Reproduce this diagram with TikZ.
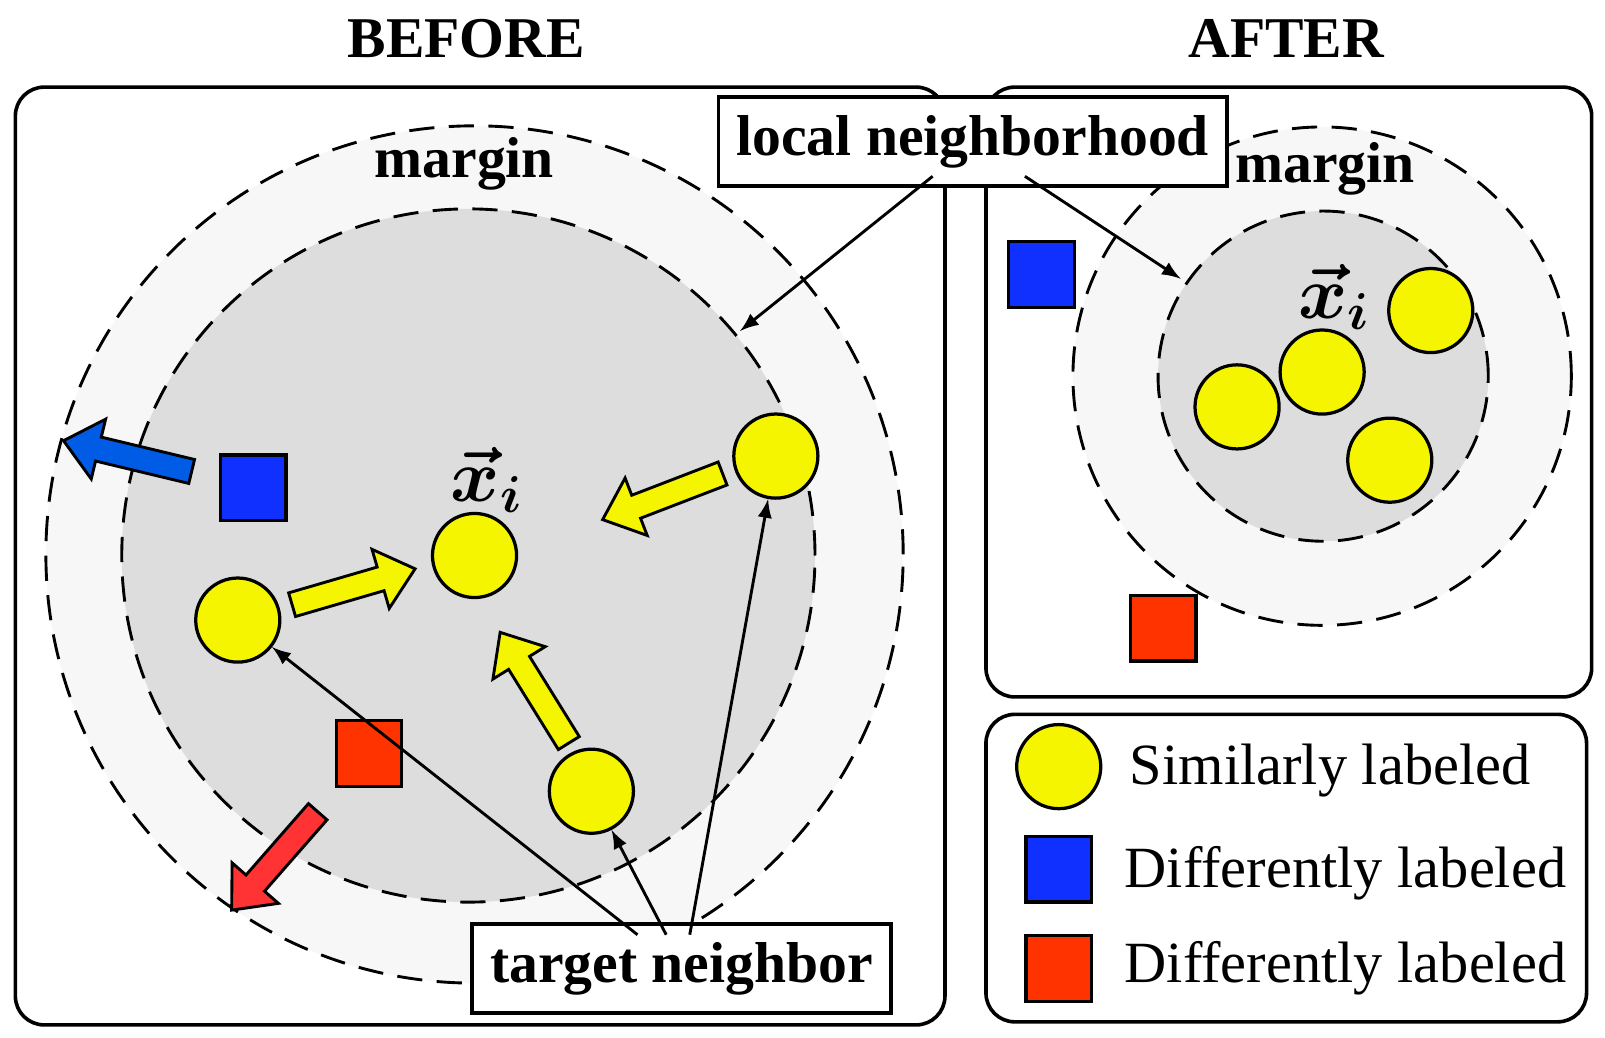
\documentclass[tikz,border=0pt]{standalone}
\usepackage{fontspec}
\setmainfont{Liberation Serif}
\usepackage{amsmath,bm}
\usetikzlibrary{calc}

\definecolor{simyellow}{HTML}{F5F500}
\definecolor{diffblue}{HTML}{1030FF}
\definecolor{diffred}{HTML}{FF3300}
\definecolor{outergray}{HTML}{F7F7F7}
\definecolor{innergray}{HTML}{DDDDDD}

% fat push/pull arrow from #2 to #3
\newcommand{\pusharrow}[3]{%
  \coordinate (h) at ($(#3)!0.35cm!(#2)$);
  \draw[fill=#1, line width=0.8pt, line join=miter]
    ($(#2)!0.12cm!90:(#3)$) -- ($(h)!0.12cm!-90:(#2)$) -- ($(h)!0.3cm!-90:(#2)$)
    -- (#3) -- ($(h)!0.3cm!90:(#2)$) -- ($(h)!0.12cm!90:(#2)$)
    -- ($(#2)!0.12cm!-90:(#3)$) -- cycle;}

\tikzset{
  panel/.style={draw, line width=1pt, rounded corners=8pt},
  zone/.style={draw, dashed, dash pattern=on 7pt off 4pt, line width=0.8pt},
  sim/.style={circle, draw, line width=0.9pt, fill=simyellow, minimum size=0.82cm, inner sep=0pt},
  diff/.style={rectangle, draw, line width=0.9pt, fill=#1, minimum size=0.64cm, inner sep=0pt},
  title/.style={font=\fontsize{16}{19}\selectfont\bfseries},
  tag/.style={draw, line width=1pt, fill=white, font=\fontsize{16}{19}\selectfont\bfseries, inner sep=5pt},
  note/.style={font=\fontsize{16}{19}\selectfont\bfseries},
  legend/.style={font=\fontsize{16.2}{19}\selectfont, anchor=west},
  pointer/.style={-latex, line width=0.8pt},
}

\begin{document}
\begin{tikzpicture}[x=0.01cm, y=-0.01cm]
\useasboundingbox (0,0) rectangle (1566,1012);

\node[title] (tbefore) at (455,38) {BEFORE};
\node[title] (tafter) at (1255,38) {AFTER};

\draw[panel] (15,85) rectangle (922,1000);
\draw[panel] (962,85) rectangle (1553,680);
\draw[panel] (962,697) rectangle (1548,997);

% before
\fill[outergray] (463,541) circle (4.18cm);
\draw[zone] (463,541) circle (4.18cm);
\fill[innergray] (457,542) circle (3.38cm);
\draw[zone] (457,542) circle (3.38cm);
\node[note] (mbefore) at (453,160) {margin};

\node[sim] (xi) at (463,542) {};
\node[sim] (sa) at (232,605) {};
\node[sim] (sb) at (757,445) {};
\node[sim] (sc) at (577,772) {};
\node[font=\huge] (lxi) at (475,468) {$\bm{\vec{x}_i}$};
\node[diff=diffblue] (db) at (247,476) {};
\node[diff=diffred] (dr) at (360,735) {};

\coordinate (ba1) at (187,460); \coordinate (ba2) at (62,430);
\coordinate (ra1) at (310,792); \coordinate (ra2) at (226,888);
\coordinate (ya1) at (285,590); \coordinate (ya2) at (405,555);
\coordinate (yb1) at (555,725); \coordinate (yb2) at (488,617);
\coordinate (yc1) at (705,462); \coordinate (yc2) at (588,507);
\pusharrow{blue!60!cyan!90!black}{ba1}{ba2}
\pusharrow{red!80!white}{ra1}{ra2}
\pusharrow{simyellow}{ya1}{ya2}
\pusharrow{simyellow}{yb1}{yb2}
\pusharrow{simyellow}{yc1}{yc2}

% after
\fill[outergray] (1290,367) circle (2.43cm);
\draw[zone] (1290,367) circle (2.43cm);
\fill[innergray] (1291,367) circle (1.61cm);
\draw[zone] (1291,367) circle (1.61cm);
\node[note] (mafter) at (1293,165) {margin};
\node[sim] (aa) at (1396,303) {};
\node[sim] (ab) at (1290,363) {};
\node[sim] (ac) at (1207,397) {};
\node[sim] (ad) at (1356,449) {};
\node[font=\huge] (axi) at (1302,290) {$\bm{\vec{x}_i}$};
\node[diff=diffblue] (adb) at (1016,268) {};
\node[diff=diffred] (adr) at (1135,613) {};

% labels with pointers
\node[tag] (local) at (949,138) {local neighborhood};
\coordinate (lp1) at (722,323);
\coordinate (lp2) at (1152,272);
\draw[pointer] (910,172) -- (lp1);
\draw[pointer] (1000,172) -- (lp2);

\node[tag] (target) at (665,945) {target neighbor};
\draw[pointer] (622,912) -- (sa);
\draw[pointer] (650,912) -- (sc);
\draw[pointer] (673,912) -- (sb);

% legend
\node[sim] (lsim) at (1033,748) {};
\node[diff=diffblue] (lblue) at (1033,848) {};
\node[diff=diffred] (lred) at (1033,945) {};
\node[legend] (tsim) at (1090,752) {Similarly labeled};
\node[legend] (tblue) at (1085,852) {Differently labeled};
\node[legend] (tred) at (1085,945) {Differently labeled};
\end{tikzpicture}
\end{document}
